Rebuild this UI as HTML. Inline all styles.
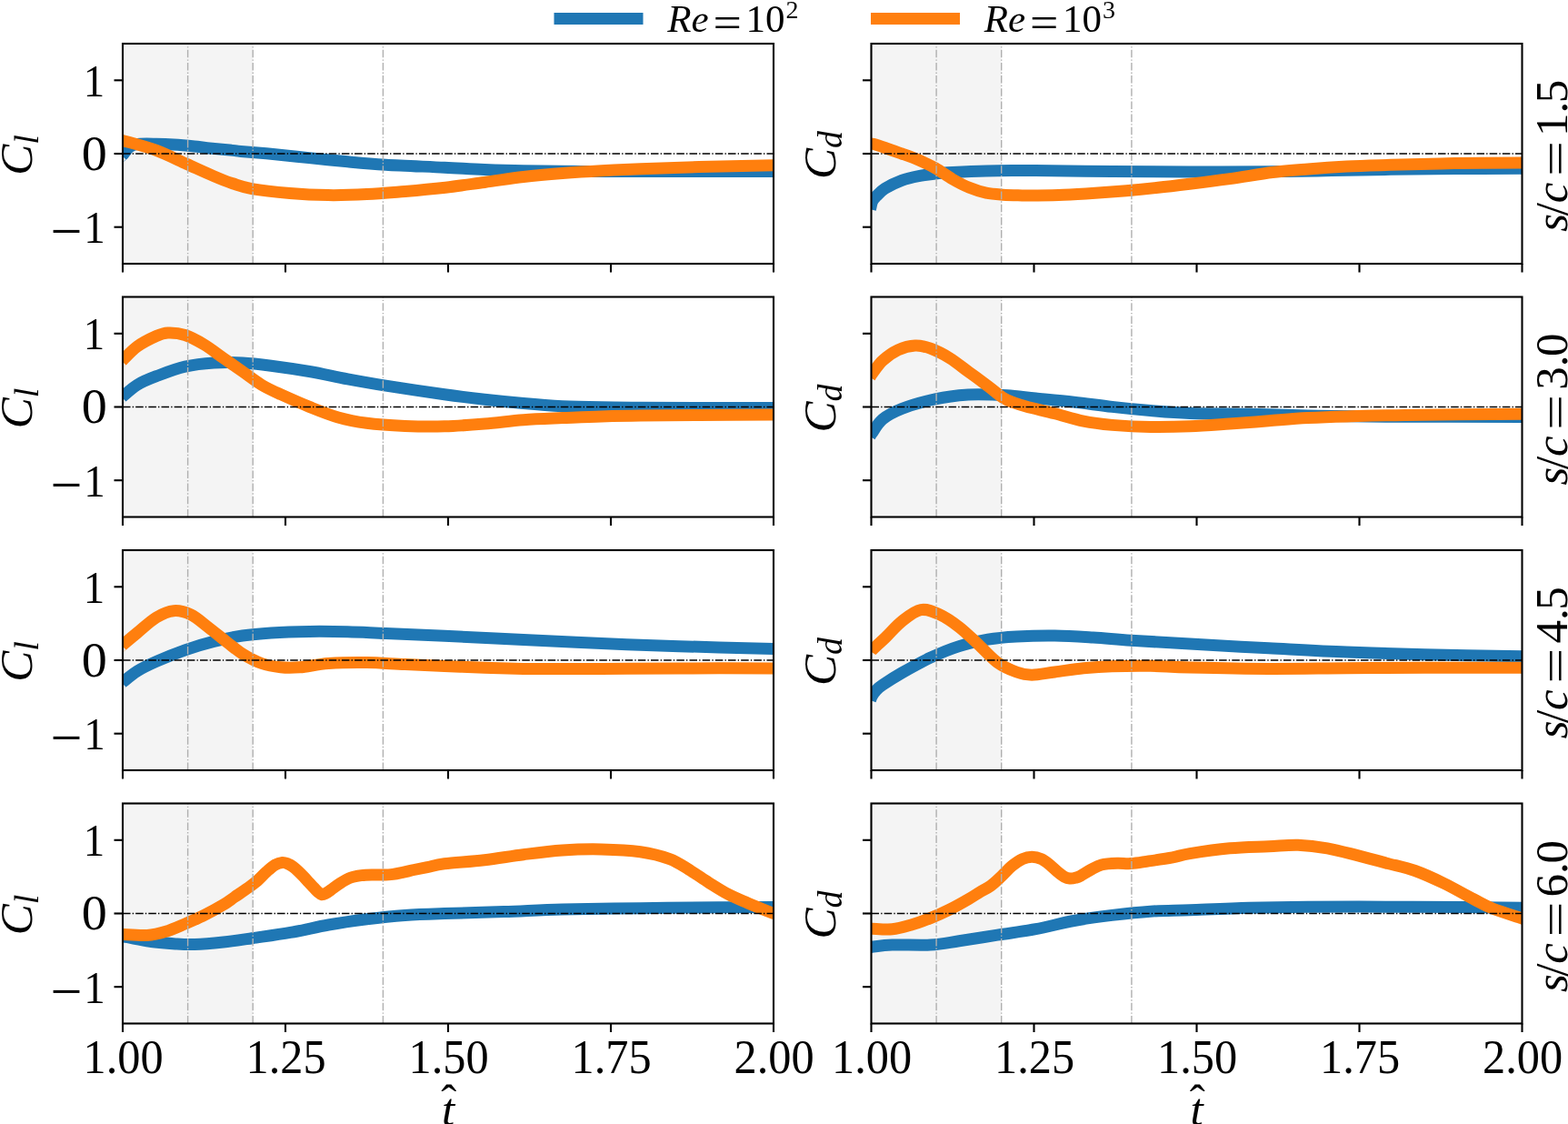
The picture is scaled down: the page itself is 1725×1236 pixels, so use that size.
<!DOCTYPE html>
<html><head><meta charset="utf-8"><title>Cl Cd figure</title>
<style>html,body{margin:0;padding:0;background:#fff;}svg{display:block;}text{font-family:"Liberation Serif","DejaVu Serif",serif;fill:#000;}</style></head><body>
<svg width="1725" height="1236" viewBox="0 0 1725 1236">
<rect x="0" y="0" width="1725" height="1236" fill="#ffffff"/>
<defs><clipPath id="c00"><rect x="135.0" y="48.0" width="716.0" height="242.0"/></clipPath><clipPath id="c01"><rect x="958.5" y="48.0" width="716.0" height="242.0"/></clipPath><clipPath id="c10"><rect x="135.0" y="326.5" width="716.0" height="242.0"/></clipPath><clipPath id="c11"><rect x="958.5" y="326.5" width="716.0" height="242.0"/></clipPath><clipPath id="c20"><rect x="135.0" y="605.0" width="716.0" height="242.0"/></clipPath><clipPath id="c21"><rect x="958.5" y="605.0" width="716.0" height="242.0"/></clipPath><clipPath id="c30"><rect x="135.0" y="883.5" width="716.0" height="242.0"/></clipPath><clipPath id="c31"><rect x="958.5" y="883.5" width="716.0" height="242.0"/></clipPath></defs>
<g><rect x="135.0" y="49.0" width="143.2" height="240.0" fill="#f4f4f4"/><path d="M134.0,171.0 C134.2,170.8 134.1,171.6 135.5,170.0 C136.9,168.4 139.8,163.4 142.6,161.5 C145.3,159.6 147.1,159.0 152.0,158.4 C156.9,157.8 165.5,158.1 172.0,158.2 C178.5,158.3 184.0,158.5 191.0,159.0 C198.0,159.5 207.8,160.4 214.0,161.0 C220.2,161.6 221.0,162.0 228.0,162.7 C235.0,163.4 249.8,164.8 256.0,165.4 C262.2,166.0 258.0,165.8 265.0,166.4 C272.0,167.1 285.5,168.1 298.0,169.3 C310.5,170.5 325.9,172.2 340.0,173.6 C354.1,175.0 368.4,176.5 382.5,177.8 C396.6,179.1 406.8,180.1 424.5,181.2 C442.2,182.3 470.9,183.3 489.0,184.2 C507.1,185.1 518.5,185.9 533.0,186.5 C547.5,187.1 558.2,187.5 576.0,187.8 C593.8,188.1 618.6,188.4 640.0,188.5 C661.4,188.6 683.0,188.6 704.5,188.6 C726.0,188.6 744.4,188.5 769.0,188.5 C793.6,188.5 838.2,188.4 852.0,188.4" fill="none" stroke="#1f77b4" stroke-width="13" stroke-linejoin="round" stroke-linecap="butt" clip-path="url(#c00)"/><path d="M134.0,154.6 C134.4,154.7 130.0,153.1 136.3,154.9 C142.6,156.7 160.4,161.1 172.0,165.4 C183.6,169.7 195.2,175.8 205.7,180.5 C216.2,185.2 226.6,190.0 235.0,193.6 C243.4,197.2 249.0,199.5 256.0,201.8 C263.0,204.1 266.5,205.8 277.0,207.6 C287.5,209.4 305.0,211.3 319.0,212.5 C333.0,213.7 346.9,214.4 361.0,214.6 C375.1,214.8 389.4,214.3 403.5,213.6 C417.6,212.9 431.2,211.6 445.6,210.4 C460.0,209.2 475.4,207.8 490.0,206.2 C504.6,204.5 518.7,202.4 533.0,200.5 C547.3,198.6 561.5,196.2 575.8,194.5 C590.1,192.8 604.4,191.6 618.7,190.5 C633.0,189.4 647.3,188.5 661.6,187.7 C675.9,186.9 686.6,186.4 704.5,185.7 C722.4,185.0 744.4,184.2 769.0,183.5 C793.6,182.8 838.2,182.1 852.0,181.8" fill="none" stroke="#ff7f0e" stroke-width="13" stroke-linejoin="round" stroke-linecap="butt" clip-path="url(#c00)"/><line x1="206.6" y1="290.0" x2="206.6" y2="48.0" stroke="#b0b0b0" stroke-width="1.4" stroke-dasharray="8.55,2.13,1.36,2.13"/><line x1="278.2" y1="290.0" x2="278.2" y2="48.0" stroke="#b0b0b0" stroke-width="1.4" stroke-dasharray="8.55,2.13,1.36,2.13"/><line x1="421.4" y1="290.0" x2="421.4" y2="48.0" stroke="#b0b0b0" stroke-width="1.4" stroke-dasharray="8.55,2.13,1.36,2.13"/><line x1="135.0" y1="169.0" x2="851.0" y2="169.0" stroke="#000" stroke-width="1.4" stroke-dasharray="8.55,2.13,1.36,2.13"/><rect x="135.0" y="48.0" width="716.0" height="242.0" fill="none" stroke="#000" stroke-width="2.1"/><line x1="125.5" y1="88.3" x2="135.0" y2="88.3" stroke="#000" stroke-width="2.1"/><line x1="125.5" y1="169.0" x2="135.0" y2="169.0" stroke="#000" stroke-width="2.1"/><line x1="125.5" y1="249.7" x2="135.0" y2="249.7" stroke="#000" stroke-width="2.1"/><line x1="135.0" y1="290.0" x2="135.0" y2="299.5" stroke="#000" stroke-width="2.1"/><line x1="314.0" y1="290.0" x2="314.0" y2="299.5" stroke="#000" stroke-width="2.1"/><line x1="493.0" y1="290.0" x2="493.0" y2="299.5" stroke="#000" stroke-width="2.1"/><line x1="672.0" y1="290.0" x2="672.0" y2="299.5" stroke="#000" stroke-width="2.1"/><line x1="851.0" y1="290.0" x2="851.0" y2="299.5" stroke="#000" stroke-width="2.1"/><text transform="translate(115.1,105.7) scale(0.92,1)" font-size="51" text-anchor="end">1</text><text transform="translate(117.7,186.8) scale(1.1,1.06)" font-size="51" text-anchor="end">0</text><text font-size="51"><tspan x="55.6" y="275.0" font-size="62">−</tspan><tspan x="92.2" y="267.1" textLength="23.5" lengthAdjust="spacingAndGlyphs">1</tspan></text><text transform="translate(35.0,170.5) rotate(-90)" font-size="51" text-anchor="middle"><tspan font-style="italic">C</tspan><tspan font-style="italic" font-size="38" dy="7">l</tspan></text></g>
<g><rect x="958.5" y="49.0" width="143.2" height="240.0" fill="#f4f4f4"/><path d="M957.5,230.0 C957.9,228.6 958.5,224.0 959.6,221.6 C960.7,219.2 962.0,217.9 964.3,215.5 C966.6,213.1 969.0,210.2 973.6,207.3 C978.2,204.5 985.9,200.7 992.1,198.4 C998.3,196.1 1004.5,194.8 1010.7,193.6 C1016.9,192.4 1023.0,191.7 1029.2,191.0 C1035.4,190.3 1038.5,190.1 1047.8,189.6 C1057.1,189.1 1073.7,188.3 1084.9,188.0 C1096.1,187.7 1106.0,187.6 1115.0,187.5 C1124.0,187.4 1120.9,187.4 1139.0,187.6 C1157.1,187.8 1195.2,188.4 1223.5,188.6 C1251.8,188.8 1280.3,189.0 1309.0,189.0 C1337.7,189.0 1369.8,188.9 1395.8,188.7 C1421.8,188.5 1442.6,188.0 1465.0,187.6 C1487.4,187.2 1507.5,186.6 1530.0,186.3 C1552.5,186.0 1575.7,185.8 1600.0,185.6 C1624.3,185.4 1663.3,185.3 1676.0,185.2" fill="none" stroke="#1f77b4" stroke-width="13" stroke-linejoin="round" stroke-linecap="butt" clip-path="url(#c01)"/><path d="M957.0,158.0 C957.6,158.1 957.8,157.6 960.6,158.3 C963.4,159.1 968.4,160.7 973.6,162.5 C978.9,164.3 985.9,166.8 992.1,169.0 C998.3,171.2 1004.5,173.3 1010.7,176.0 C1016.9,178.7 1023.0,181.5 1029.2,185.0 C1035.4,188.5 1041.6,193.4 1047.8,197.0 C1054.0,200.6 1060.1,203.8 1066.3,206.3 C1072.5,208.8 1078.7,210.9 1084.9,212.2 C1091.1,213.5 1097.6,213.8 1103.4,214.2 C1109.2,214.6 1113.9,214.7 1120.0,214.8 C1126.1,214.9 1131.7,215.1 1140.0,215.0 C1148.3,214.9 1159.2,214.8 1170.0,214.3 C1180.8,213.9 1193.5,213.1 1205.0,212.3 C1216.5,211.6 1227.5,210.8 1239.0,209.8 C1250.5,208.8 1262.4,207.6 1274.0,206.3 C1285.6,205.1 1295.5,203.9 1308.7,202.3 C1321.9,200.7 1337.8,198.7 1353.0,196.6 C1368.2,194.5 1385.7,191.3 1400.0,189.5 C1414.3,187.7 1425.1,187.0 1438.7,185.9 C1452.3,184.8 1466.4,183.8 1481.6,183.0 C1496.8,182.2 1510.3,181.9 1530.0,181.3 C1549.7,180.7 1575.7,180.0 1600.0,179.6 C1624.3,179.2 1663.3,179.1 1676.0,179.0" fill="none" stroke="#ff7f0e" stroke-width="13" stroke-linejoin="round" stroke-linecap="butt" clip-path="url(#c01)"/><line x1="1030.1" y1="290.0" x2="1030.1" y2="48.0" stroke="#b0b0b0" stroke-width="1.4" stroke-dasharray="8.55,2.13,1.36,2.13"/><line x1="1101.7" y1="290.0" x2="1101.7" y2="48.0" stroke="#b0b0b0" stroke-width="1.4" stroke-dasharray="8.55,2.13,1.36,2.13"/><line x1="1244.9" y1="290.0" x2="1244.9" y2="48.0" stroke="#b0b0b0" stroke-width="1.4" stroke-dasharray="8.55,2.13,1.36,2.13"/><line x1="958.5" y1="169.0" x2="1674.5" y2="169.0" stroke="#000" stroke-width="1.4" stroke-dasharray="8.55,2.13,1.36,2.13"/><rect x="958.5" y="48.0" width="716.0" height="242.0" fill="none" stroke="#000" stroke-width="2.1"/><line x1="949.0" y1="88.3" x2="958.5" y2="88.3" stroke="#000" stroke-width="2.1"/><line x1="949.0" y1="169.0" x2="958.5" y2="169.0" stroke="#000" stroke-width="2.1"/><line x1="949.0" y1="249.7" x2="958.5" y2="249.7" stroke="#000" stroke-width="2.1"/><line x1="958.5" y1="290.0" x2="958.5" y2="299.5" stroke="#000" stroke-width="2.1"/><line x1="1137.5" y1="290.0" x2="1137.5" y2="299.5" stroke="#000" stroke-width="2.1"/><line x1="1316.5" y1="290.0" x2="1316.5" y2="299.5" stroke="#000" stroke-width="2.1"/><line x1="1495.5" y1="290.0" x2="1495.5" y2="299.5" stroke="#000" stroke-width="2.1"/><line x1="1674.5" y1="290.0" x2="1674.5" y2="299.5" stroke="#000" stroke-width="2.1"/><text transform="translate(919.0,170.5) rotate(-90)" font-size="51" text-anchor="middle"><tspan font-style="italic">C</tspan><tspan font-style="italic" font-size="38" dy="7">d</tspan></text></g>
<g><rect x="135.0" y="327.5" width="143.2" height="240.0" fill="#f4f4f4"/><path d="M134.0,437.0 C134.2,436.8 132.5,438.1 135.3,435.8 C138.1,433.5 144.9,426.9 151.0,423.2 C157.1,419.5 163.2,417.0 172.0,413.7 C180.8,410.4 193.1,405.6 203.6,403.2 C214.1,400.8 224.7,399.7 235.2,399.0 C245.7,398.3 256.3,398.5 266.8,399.0 C277.3,399.5 286.0,400.6 298.3,402.2 C310.6,403.8 326.4,406.1 340.4,408.5 C354.4,410.9 368.5,414.3 382.5,416.9 C396.5,419.5 406.8,421.4 424.5,424.2 C442.2,427.0 470.9,431.3 489.0,433.8 C507.1,436.3 518.5,437.6 533.0,439.2 C547.5,440.8 561.5,442.2 575.8,443.5 C590.1,444.8 604.4,446.0 618.7,446.7 C633.0,447.4 647.3,447.6 661.6,447.8 C675.9,448.1 686.6,448.1 704.5,448.2 C722.4,448.3 744.3,448.3 768.9,448.4 C793.5,448.5 838.1,448.6 852.0,448.6" fill="none" stroke="#1f77b4" stroke-width="13" stroke-linejoin="round" stroke-linecap="butt" clip-path="url(#c10)"/><path d="M134.0,397.0 C134.2,396.8 132.5,398.5 135.3,395.8 C138.1,393.1 144.9,385.4 151.0,381.0 C157.1,376.6 166.4,372.0 172.0,369.5 C177.6,367.0 179.4,366.2 184.7,366.0 C190.0,365.8 196.9,366.3 203.6,368.5 C210.3,370.7 217.7,374.8 224.7,379.0 C231.7,383.2 238.7,388.8 245.7,393.7 C252.7,398.6 259.8,403.6 266.8,408.5 C273.8,413.4 280.8,419.0 287.8,423.2 C294.8,427.4 300.0,429.7 308.8,433.7 C317.6,437.7 329.9,443.2 340.4,447.4 C350.9,451.6 361.5,456.0 372.0,459.0 C382.5,462.0 391.2,463.7 403.5,465.3 C415.8,466.9 431.4,467.8 445.6,468.4 C459.9,469.0 474.4,469.2 489.0,468.8 C503.6,468.4 518.5,467.2 533.0,466.0 C547.5,464.8 561.5,462.8 575.8,461.7 C590.1,460.6 604.4,460.2 618.7,459.6 C633.0,459.0 647.3,458.3 661.6,457.9 C675.9,457.5 686.6,457.2 704.5,457.0 C722.4,456.8 744.3,456.6 768.9,456.4 C793.5,456.2 838.1,456.0 852.0,455.9" fill="none" stroke="#ff7f0e" stroke-width="13" stroke-linejoin="round" stroke-linecap="butt" clip-path="url(#c10)"/><line x1="206.6" y1="568.5" x2="206.6" y2="326.5" stroke="#b0b0b0" stroke-width="1.4" stroke-dasharray="8.55,2.13,1.36,2.13"/><line x1="278.2" y1="568.5" x2="278.2" y2="326.5" stroke="#b0b0b0" stroke-width="1.4" stroke-dasharray="8.55,2.13,1.36,2.13"/><line x1="421.4" y1="568.5" x2="421.4" y2="326.5" stroke="#b0b0b0" stroke-width="1.4" stroke-dasharray="8.55,2.13,1.36,2.13"/><line x1="135.0" y1="447.5" x2="851.0" y2="447.5" stroke="#000" stroke-width="1.4" stroke-dasharray="8.55,2.13,1.36,2.13"/><rect x="135.0" y="326.5" width="716.0" height="242.0" fill="none" stroke="#000" stroke-width="2.1"/><line x1="125.5" y1="366.8" x2="135.0" y2="366.8" stroke="#000" stroke-width="2.1"/><line x1="125.5" y1="447.5" x2="135.0" y2="447.5" stroke="#000" stroke-width="2.1"/><line x1="125.5" y1="528.2" x2="135.0" y2="528.2" stroke="#000" stroke-width="2.1"/><line x1="135.0" y1="568.5" x2="135.0" y2="578.0" stroke="#000" stroke-width="2.1"/><line x1="314.0" y1="568.5" x2="314.0" y2="578.0" stroke="#000" stroke-width="2.1"/><line x1="493.0" y1="568.5" x2="493.0" y2="578.0" stroke="#000" stroke-width="2.1"/><line x1="672.0" y1="568.5" x2="672.0" y2="578.0" stroke="#000" stroke-width="2.1"/><line x1="851.0" y1="568.5" x2="851.0" y2="578.0" stroke="#000" stroke-width="2.1"/><text transform="translate(115.1,384.2) scale(0.92,1)" font-size="51" text-anchor="end">1</text><text transform="translate(117.7,465.3) scale(1.1,1.06)" font-size="51" text-anchor="end">0</text><text font-size="51"><tspan x="55.6" y="553.5" font-size="62">−</tspan><tspan x="92.2" y="545.6" textLength="23.5" lengthAdjust="spacingAndGlyphs">1</tspan></text><text transform="translate(35.0,449.0) rotate(-90)" font-size="51" text-anchor="middle"><tspan font-style="italic">C</tspan><tspan font-style="italic" font-size="38" dy="7">l</tspan></text></g>
<g><rect x="958.5" y="327.5" width="143.2" height="240.0" fill="#f4f4f4"/><path d="M957.0,480.0 C957.4,479.3 957.2,479.2 959.5,476.0 C961.8,472.8 965.6,465.4 971.0,461.0 C976.4,456.6 983.2,453.0 992.0,449.5 C1000.8,446.0 1013.1,442.4 1023.6,440.0 C1034.1,437.6 1046.4,435.9 1055.2,434.8 C1064.0,433.8 1067.4,433.7 1076.2,433.7 C1085.0,433.7 1097.3,434.1 1107.8,434.8 C1118.3,435.5 1127.1,436.7 1139.4,437.9 C1151.7,439.1 1167.4,440.5 1181.4,442.1 C1195.4,443.7 1209.5,445.8 1223.5,447.4 C1237.5,449.0 1251.3,450.4 1265.6,451.6 C1279.8,452.8 1290.9,453.9 1309.0,454.5 C1327.1,455.1 1352.8,454.9 1374.4,455.3 C1396.0,455.7 1413.7,456.5 1438.7,457.0 C1463.7,457.5 1485.0,457.9 1524.5,458.2 C1564.0,458.4 1650.8,458.4 1676.0,458.5" fill="none" stroke="#1f77b4" stroke-width="13" stroke-linejoin="round" stroke-linecap="butt" clip-path="url(#c11)"/><path d="M957.0,415.0 C957.4,414.3 957.2,414.1 959.5,411.0 C961.8,407.9 966.3,400.9 971.0,396.5 C975.7,392.1 981.9,387.6 987.9,384.8 C993.9,382.1 1000.8,380.3 1006.8,380.0 C1012.8,379.7 1017.3,380.9 1023.6,383.2 C1029.9,385.5 1037.7,389.4 1044.7,393.7 C1051.7,398.0 1058.7,403.9 1065.7,409.0 C1072.7,414.1 1080.5,419.8 1086.8,424.5 C1093.1,429.2 1098.7,434.4 1103.6,437.5 C1108.5,440.6 1111.8,441.4 1116.0,443.0 C1120.2,444.6 1121.4,445.0 1128.8,447.0 C1136.2,449.0 1149.9,452.1 1160.4,454.8 C1170.9,457.5 1181.5,461.1 1192.0,463.2 C1202.5,465.3 1211.2,466.3 1223.5,467.4 C1235.8,468.4 1251.3,469.3 1265.6,469.5 C1279.8,469.7 1294.5,469.4 1309.0,468.8 C1323.5,468.2 1338.4,467.0 1352.9,466.0 C1367.4,465.0 1381.5,463.9 1395.8,462.8 C1410.1,461.7 1424.4,460.4 1438.7,459.6 C1453.0,458.8 1463.7,458.4 1481.6,457.9 C1499.5,457.4 1513.6,456.8 1546.0,456.4 C1578.4,456.0 1654.3,455.5 1676.0,455.3" fill="none" stroke="#ff7f0e" stroke-width="13" stroke-linejoin="round" stroke-linecap="butt" clip-path="url(#c11)"/><line x1="1030.1" y1="568.5" x2="1030.1" y2="326.5" stroke="#b0b0b0" stroke-width="1.4" stroke-dasharray="8.55,2.13,1.36,2.13"/><line x1="1101.7" y1="568.5" x2="1101.7" y2="326.5" stroke="#b0b0b0" stroke-width="1.4" stroke-dasharray="8.55,2.13,1.36,2.13"/><line x1="1244.9" y1="568.5" x2="1244.9" y2="326.5" stroke="#b0b0b0" stroke-width="1.4" stroke-dasharray="8.55,2.13,1.36,2.13"/><line x1="958.5" y1="447.5" x2="1674.5" y2="447.5" stroke="#000" stroke-width="1.4" stroke-dasharray="8.55,2.13,1.36,2.13"/><rect x="958.5" y="326.5" width="716.0" height="242.0" fill="none" stroke="#000" stroke-width="2.1"/><line x1="949.0" y1="366.8" x2="958.5" y2="366.8" stroke="#000" stroke-width="2.1"/><line x1="949.0" y1="447.5" x2="958.5" y2="447.5" stroke="#000" stroke-width="2.1"/><line x1="949.0" y1="528.2" x2="958.5" y2="528.2" stroke="#000" stroke-width="2.1"/><line x1="958.5" y1="568.5" x2="958.5" y2="578.0" stroke="#000" stroke-width="2.1"/><line x1="1137.5" y1="568.5" x2="1137.5" y2="578.0" stroke="#000" stroke-width="2.1"/><line x1="1316.5" y1="568.5" x2="1316.5" y2="578.0" stroke="#000" stroke-width="2.1"/><line x1="1495.5" y1="568.5" x2="1495.5" y2="578.0" stroke="#000" stroke-width="2.1"/><line x1="1674.5" y1="568.5" x2="1674.5" y2="578.0" stroke="#000" stroke-width="2.1"/><text transform="translate(919.0,449.0) rotate(-90)" font-size="51" text-anchor="middle"><tspan font-style="italic">C</tspan><tspan font-style="italic" font-size="38" dy="7">d</tspan></text></g>
<g><rect x="135.0" y="606.0" width="143.2" height="240.0" fill="#f4f4f4"/><path d="M134.0,751.0 C134.2,750.8 132.5,752.2 135.3,750.0 C138.1,747.8 144.9,741.8 151.0,738.0 C157.1,734.2 163.2,731.3 172.0,727.4 C180.8,723.5 193.1,718.5 203.6,714.8 C214.1,711.1 224.7,708.0 235.2,705.4 C245.7,702.8 256.3,700.6 266.8,699.0 C277.3,697.4 286.0,696.7 298.3,695.9 C310.6,695.1 326.4,694.6 340.4,694.4 C354.4,694.2 368.5,694.4 382.5,694.8 C396.5,695.1 406.8,695.8 424.5,696.5 C442.2,697.2 463.8,698.1 489.0,699.3 C514.2,700.5 547.0,702.2 575.8,703.6 C604.6,705.0 633.0,706.3 661.6,707.5 C690.2,708.7 715.7,709.7 747.4,710.7 C779.1,711.7 834.6,713.0 852.0,713.5" fill="none" stroke="#1f77b4" stroke-width="13" stroke-linejoin="round" stroke-linecap="butt" clip-path="url(#c20)"/><path d="M134.0,710.0 C134.2,709.8 132.5,711.4 135.3,709.0 C138.1,706.6 144.9,700.9 151.0,695.9 C157.1,690.9 165.3,683.0 172.0,679.0 C178.7,675.0 184.7,672.2 191.0,671.7 C197.3,671.2 203.7,672.9 210.0,675.9 C216.3,678.9 222.2,684.5 228.9,689.6 C235.6,694.7 243.7,701.5 250.0,706.4 C256.3,711.3 260.5,715.1 266.8,719.0 C273.1,722.9 280.8,727.0 287.8,729.5 C294.8,732.0 301.8,733.1 308.8,733.8 C315.8,734.5 321.1,734.5 329.9,733.8 C338.7,733.1 349.1,730.4 361.4,729.5 C373.7,728.6 389.5,728.3 403.5,728.5 C417.5,728.7 431.4,730.0 445.6,730.6 C459.9,731.2 474.4,731.8 489.0,732.4 C503.6,733.0 518.4,733.8 532.9,734.3 C547.4,734.8 554.3,735.2 575.8,735.4 C597.2,735.6 633.0,735.5 661.6,735.4 C690.2,735.3 715.7,735.0 747.4,734.9 C779.1,734.8 834.6,734.9 852.0,734.9" fill="none" stroke="#ff7f0e" stroke-width="13" stroke-linejoin="round" stroke-linecap="butt" clip-path="url(#c20)"/><line x1="206.6" y1="847.0" x2="206.6" y2="605.0" stroke="#b0b0b0" stroke-width="1.4" stroke-dasharray="8.55,2.13,1.36,2.13"/><line x1="278.2" y1="847.0" x2="278.2" y2="605.0" stroke="#b0b0b0" stroke-width="1.4" stroke-dasharray="8.55,2.13,1.36,2.13"/><line x1="421.4" y1="847.0" x2="421.4" y2="605.0" stroke="#b0b0b0" stroke-width="1.4" stroke-dasharray="8.55,2.13,1.36,2.13"/><line x1="135.0" y1="726.0" x2="851.0" y2="726.0" stroke="#000" stroke-width="1.4" stroke-dasharray="8.55,2.13,1.36,2.13"/><rect x="135.0" y="605.0" width="716.0" height="242.0" fill="none" stroke="#000" stroke-width="2.1"/><line x1="125.5" y1="645.3" x2="135.0" y2="645.3" stroke="#000" stroke-width="2.1"/><line x1="125.5" y1="726.0" x2="135.0" y2="726.0" stroke="#000" stroke-width="2.1"/><line x1="125.5" y1="806.7" x2="135.0" y2="806.7" stroke="#000" stroke-width="2.1"/><line x1="135.0" y1="847.0" x2="135.0" y2="856.5" stroke="#000" stroke-width="2.1"/><line x1="314.0" y1="847.0" x2="314.0" y2="856.5" stroke="#000" stroke-width="2.1"/><line x1="493.0" y1="847.0" x2="493.0" y2="856.5" stroke="#000" stroke-width="2.1"/><line x1="672.0" y1="847.0" x2="672.0" y2="856.5" stroke="#000" stroke-width="2.1"/><line x1="851.0" y1="847.0" x2="851.0" y2="856.5" stroke="#000" stroke-width="2.1"/><text transform="translate(115.1,662.7) scale(0.92,1)" font-size="51" text-anchor="end">1</text><text transform="translate(117.7,743.8) scale(1.1,1.06)" font-size="51" text-anchor="end">0</text><text font-size="51"><tspan x="55.6" y="832.0" font-size="62">−</tspan><tspan x="92.2" y="824.1" textLength="23.5" lengthAdjust="spacingAndGlyphs">1</tspan></text><text transform="translate(35.0,727.5) rotate(-90)" font-size="51" text-anchor="middle"><tspan font-style="italic">C</tspan><tspan font-style="italic" font-size="38" dy="7">l</tspan></text></g>
<g><rect x="958.5" y="606.0" width="143.2" height="240.0" fill="#f4f4f4"/><path d="M957.5,770.0 C957.8,769.2 958.4,766.8 959.5,765.0 C960.6,763.2 962.1,761.0 964.0,759.0 C965.9,757.0 966.3,756.4 971.0,753.2 C975.7,750.0 983.2,745.0 992.0,740.0 C1000.8,735.0 1013.1,728.1 1023.6,723.2 C1034.1,718.3 1044.7,713.9 1055.2,710.6 C1065.7,707.3 1076.3,705.0 1086.8,703.2 C1097.3,701.4 1106.0,700.7 1118.3,700.0 C1130.6,699.3 1146.4,698.8 1160.4,699.0 C1174.4,699.2 1188.5,700.2 1202.5,701.1 C1216.5,702.0 1226.8,703.1 1244.5,704.3 C1262.2,705.4 1283.8,706.6 1309.0,708.0 C1334.2,709.4 1367.0,711.3 1395.8,712.8 C1424.6,714.3 1453.0,716.0 1481.6,717.1 C1510.2,718.2 1535.0,718.9 1567.4,719.7 C1599.8,720.5 1657.9,721.4 1676.0,721.8" fill="none" stroke="#1f77b4" stroke-width="13" stroke-linejoin="round" stroke-linecap="butt" clip-path="url(#c21)"/><path d="M958.0,716.5 C958.2,716.2 956.6,717.5 959.5,714.8 C962.4,712.0 969.8,705.2 975.2,700.0 C980.6,694.8 985.7,688.2 992.0,683.3 C998.3,678.4 1006.0,671.8 1013.0,670.6 C1020.0,669.4 1027.0,672.7 1034.0,675.9 C1041.0,679.1 1048.2,684.2 1055.2,689.6 C1062.2,695.0 1069.2,702.0 1076.2,708.5 C1083.2,715.0 1090.3,723.4 1097.3,728.5 C1104.3,733.6 1112.0,736.7 1118.3,739.0 C1124.6,741.3 1128.1,742.2 1135.1,742.2 C1142.1,742.2 1150.9,740.2 1160.4,739.0 C1169.9,737.8 1181.5,735.8 1192.0,734.8 C1202.5,733.8 1211.2,733.1 1223.5,732.7 C1235.8,732.3 1251.3,732.1 1265.6,732.3 C1279.8,732.5 1287.3,733.5 1309.0,734.0 C1330.7,734.5 1367.0,735.3 1395.8,735.4 C1424.6,735.5 1453.0,734.9 1481.6,734.7 C1510.2,734.5 1535.0,734.4 1567.4,734.3 C1599.8,734.2 1657.9,734.3 1676.0,734.3" fill="none" stroke="#ff7f0e" stroke-width="13" stroke-linejoin="round" stroke-linecap="butt" clip-path="url(#c21)"/><line x1="1030.1" y1="847.0" x2="1030.1" y2="605.0" stroke="#b0b0b0" stroke-width="1.4" stroke-dasharray="8.55,2.13,1.36,2.13"/><line x1="1101.7" y1="847.0" x2="1101.7" y2="605.0" stroke="#b0b0b0" stroke-width="1.4" stroke-dasharray="8.55,2.13,1.36,2.13"/><line x1="1244.9" y1="847.0" x2="1244.9" y2="605.0" stroke="#b0b0b0" stroke-width="1.4" stroke-dasharray="8.55,2.13,1.36,2.13"/><line x1="958.5" y1="726.0" x2="1674.5" y2="726.0" stroke="#000" stroke-width="1.4" stroke-dasharray="8.55,2.13,1.36,2.13"/><rect x="958.5" y="605.0" width="716.0" height="242.0" fill="none" stroke="#000" stroke-width="2.1"/><line x1="949.0" y1="645.3" x2="958.5" y2="645.3" stroke="#000" stroke-width="2.1"/><line x1="949.0" y1="726.0" x2="958.5" y2="726.0" stroke="#000" stroke-width="2.1"/><line x1="949.0" y1="806.7" x2="958.5" y2="806.7" stroke="#000" stroke-width="2.1"/><line x1="958.5" y1="847.0" x2="958.5" y2="856.5" stroke="#000" stroke-width="2.1"/><line x1="1137.5" y1="847.0" x2="1137.5" y2="856.5" stroke="#000" stroke-width="2.1"/><line x1="1316.5" y1="847.0" x2="1316.5" y2="856.5" stroke="#000" stroke-width="2.1"/><line x1="1495.5" y1="847.0" x2="1495.5" y2="856.5" stroke="#000" stroke-width="2.1"/><line x1="1674.5" y1="847.0" x2="1674.5" y2="856.5" stroke="#000" stroke-width="2.1"/><text transform="translate(919.0,727.5) rotate(-90)" font-size="51" text-anchor="middle"><tspan font-style="italic">C</tspan><tspan font-style="italic" font-size="38" dy="7">d</tspan></text></g>
<g><rect x="135.0" y="884.5" width="143.2" height="240.0" fill="#f4f4f4"/><path d="M134.0,1029.4 C134.2,1029.4 130.7,1028.7 135.3,1029.6 C139.9,1030.5 152.0,1033.4 161.6,1034.8 C171.2,1036.2 184.3,1037.3 193.1,1037.9 C201.9,1038.5 205.4,1038.8 214.2,1038.5 C223.0,1038.2 235.2,1037.1 245.7,1036.0 C256.2,1034.9 265.0,1033.5 277.3,1031.7 C289.6,1029.9 305.4,1027.9 319.4,1025.4 C333.4,1023.0 347.4,1019.5 361.4,1017.0 C375.4,1014.5 389.5,1012.5 403.5,1010.7 C417.5,1008.9 431.4,1007.4 445.6,1006.4 C459.9,1005.4 470.9,1005.1 489.0,1004.5 C507.1,1003.9 532.8,1003.4 554.4,1002.6 C576.0,1001.9 593.7,1000.6 618.7,1000.0 C643.7,999.4 675.9,999.1 704.5,998.7 C733.1,998.3 765.7,998.0 790.3,997.8 C814.9,997.6 841.7,997.6 852.0,997.6" fill="none" stroke="#1f77b4" stroke-width="13" stroke-linejoin="round" stroke-linecap="butt" clip-path="url(#c30)"/><path d="M134.0,1027.5 C134.2,1027.5 130.7,1027.3 135.3,1027.5 C139.9,1027.7 153.7,1029.0 161.6,1028.5 C169.5,1028.0 175.6,1026.4 182.6,1024.3 C189.6,1022.2 196.6,1018.9 203.6,1015.9 C210.6,1012.9 217.7,1009.9 224.7,1006.4 C231.7,1002.9 240.1,998.2 245.7,994.9 C251.2,991.6 253.9,989.3 258.0,986.5 C262.1,983.7 266.1,981.1 270.0,978.3 C273.9,975.5 277.7,973.1 281.6,969.8 C285.5,966.5 289.7,961.7 293.2,958.6 C296.7,955.5 299.6,952.8 302.5,951.1 C305.4,949.4 308.3,948.6 310.6,948.4 C312.9,948.2 314.5,949.0 316.4,949.8 C318.3,950.6 320.3,951.6 322.2,953.0 C324.1,954.4 326.1,956.2 328.0,958.0 C329.9,959.8 331.9,961.8 333.8,963.8 C335.7,965.8 337.7,968.1 339.6,970.2 C341.5,972.3 343.7,974.5 345.4,976.3 C347.1,978.1 348.6,979.8 350.0,981.0 C351.4,982.2 352.6,983.6 354.0,983.8 C355.4,984.0 356.8,983.2 358.5,982.3 C360.2,981.4 361.4,980.5 364.0,978.6 C366.6,976.8 370.6,973.5 374.3,971.2 C378.0,968.9 382.1,966.4 386.0,965.0 C389.9,963.6 393.7,963.1 397.5,962.6 C401.3,962.1 405.1,962.0 409.0,961.9 C412.9,961.8 416.8,962.2 420.7,962.1 C424.6,962.0 428.4,961.9 432.3,961.4 C436.2,960.9 440.1,960.0 444.0,959.2 C447.9,958.4 451.2,957.4 455.5,956.5 C459.8,955.6 464.4,954.7 470.0,953.6 C475.6,952.5 478.5,951.1 489.0,949.8 C499.5,948.5 518.4,947.4 532.9,945.7 C547.4,944.0 561.5,941.5 575.8,939.7 C590.1,937.9 604.4,936.0 618.7,935.0 C633.0,934.0 647.3,933.6 661.6,933.9 C675.9,934.2 692.0,934.9 704.5,936.7 C717.0,938.5 727.8,941.3 736.7,944.6 C745.6,947.9 751.0,952.1 758.1,956.4 C765.2,960.7 772.5,965.9 779.6,970.4 C786.8,974.9 793.9,979.5 801.0,983.3 C808.1,987.0 814.0,989.3 822.5,992.9 C831.0,996.5 847.1,1003.0 852.0,1005.0" fill="none" stroke="#ff7f0e" stroke-width="13" stroke-linejoin="round" stroke-linecap="butt" clip-path="url(#c30)"/><line x1="206.6" y1="1125.5" x2="206.6" y2="883.5" stroke="#b0b0b0" stroke-width="1.4" stroke-dasharray="8.55,2.13,1.36,2.13"/><line x1="278.2" y1="1125.5" x2="278.2" y2="883.5" stroke="#b0b0b0" stroke-width="1.4" stroke-dasharray="8.55,2.13,1.36,2.13"/><line x1="421.4" y1="1125.5" x2="421.4" y2="883.5" stroke="#b0b0b0" stroke-width="1.4" stroke-dasharray="8.55,2.13,1.36,2.13"/><line x1="135.0" y1="1004.5" x2="851.0" y2="1004.5" stroke="#000" stroke-width="1.4" stroke-dasharray="8.55,2.13,1.36,2.13"/><rect x="135.0" y="883.5" width="716.0" height="242.0" fill="none" stroke="#000" stroke-width="2.1"/><line x1="125.5" y1="923.8" x2="135.0" y2="923.8" stroke="#000" stroke-width="2.1"/><line x1="125.5" y1="1004.5" x2="135.0" y2="1004.5" stroke="#000" stroke-width="2.1"/><line x1="125.5" y1="1085.2" x2="135.0" y2="1085.2" stroke="#000" stroke-width="2.1"/><line x1="135.0" y1="1125.5" x2="135.0" y2="1135.0" stroke="#000" stroke-width="2.1"/><line x1="314.0" y1="1125.5" x2="314.0" y2="1135.0" stroke="#000" stroke-width="2.1"/><line x1="493.0" y1="1125.5" x2="493.0" y2="1135.0" stroke="#000" stroke-width="2.1"/><line x1="672.0" y1="1125.5" x2="672.0" y2="1135.0" stroke="#000" stroke-width="2.1"/><line x1="851.0" y1="1125.5" x2="851.0" y2="1135.0" stroke="#000" stroke-width="2.1"/><text transform="translate(115.1,941.2) scale(0.92,1)" font-size="51" text-anchor="end">1</text><text transform="translate(117.7,1022.3) scale(1.1,1.06)" font-size="51" text-anchor="end">0</text><text font-size="51"><tspan x="55.6" y="1110.5" font-size="62">−</tspan><tspan x="92.2" y="1102.6" textLength="23.5" lengthAdjust="spacingAndGlyphs">1</tspan></text><text transform="translate(135.6,1179.5) scale(0.95,1)" font-size="53" text-anchor="middle">1.00</text><text transform="translate(314.6,1179.5) scale(0.95,1)" font-size="53" text-anchor="middle">1.25</text><text transform="translate(493.6,1179.5) scale(0.95,1)" font-size="53" text-anchor="middle">1.50</text><text transform="translate(672.6,1179.5) scale(0.95,1)" font-size="53" text-anchor="middle">1.75</text><text transform="translate(851.6,1179.5) scale(0.95,1)" font-size="53" text-anchor="middle">2.00</text><text x="493.0" y="1237.0" font-size="51" text-anchor="middle" font-style="italic">t</text><text x="493.8" y="1227.8" font-size="51" text-anchor="middle">ˆ</text><text transform="translate(35.0,1006.0) rotate(-90)" font-size="51" text-anchor="middle"><tspan font-style="italic">C</tspan><tspan font-style="italic" font-size="38" dy="7">l</tspan></text></g>
<g><rect x="958.5" y="884.5" width="143.2" height="240.0" fill="#f4f4f4"/><path d="M958.0,1041.3 C958.2,1041.3 955.6,1041.6 959.5,1041.2 C963.4,1040.8 970.9,1039.4 981.6,1039.0 C992.3,1038.6 1011.3,1039.7 1023.6,1039.0 C1035.9,1038.3 1042.9,1036.6 1055.2,1034.8 C1067.5,1033.0 1083.3,1030.4 1097.3,1028.2 C1111.3,1026.0 1125.4,1024.3 1139.4,1021.7 C1153.4,1019.1 1167.4,1015.0 1181.4,1012.5 C1195.4,1010.0 1209.5,1008.1 1223.5,1006.4 C1237.5,1004.7 1251.3,1003.1 1265.6,1002.2 C1279.8,1001.3 1290.9,1001.4 1309.0,1000.8 C1327.1,1000.1 1352.8,998.9 1374.4,998.3 C1396.0,997.7 1413.7,997.4 1438.7,997.2 C1463.7,997.0 1495.9,997.1 1524.5,997.2 C1553.1,997.3 1585.0,997.4 1610.3,997.6 C1635.5,997.8 1665.0,998.2 1676.0,998.3" fill="none" stroke="#1f77b4" stroke-width="13" stroke-linejoin="round" stroke-linecap="butt" clip-path="url(#c31)"/><path d="M958.0,1021.2 C958.2,1021.2 955.6,1021.1 959.5,1021.2 C963.4,1021.3 974.4,1022.5 981.6,1021.8 C988.8,1021.1 995.6,1019.0 1002.6,1017.0 C1009.6,1015.0 1016.6,1012.4 1023.6,1009.6 C1030.6,1006.8 1037.7,1003.6 1044.7,1000.1 C1051.7,996.6 1060.2,991.8 1065.7,988.6 C1071.2,985.4 1074.0,983.4 1078.0,981.0 C1082.0,978.6 1086.1,976.9 1090.0,974.0 C1093.9,971.1 1097.7,967.3 1101.6,963.7 C1105.5,960.1 1109.3,955.5 1113.2,952.3 C1117.1,949.1 1121.1,946.3 1124.8,944.6 C1128.5,942.9 1131.7,942.2 1135.2,942.2 C1138.7,942.2 1142.4,943.1 1145.7,944.6 C1149.0,946.1 1151.8,948.5 1154.9,951.0 C1158.0,953.5 1161.5,957.1 1164.2,959.3 C1166.9,961.5 1168.9,963.1 1171.0,964.2 C1173.1,965.3 1175.0,965.8 1177.0,966.0 C1179.0,966.2 1181.1,965.8 1183.0,965.3 C1184.9,964.8 1185.8,964.7 1188.6,963.2 C1191.4,961.7 1196.2,958.4 1200.1,956.4 C1203.9,954.4 1206.9,952.2 1211.7,951.0 C1216.5,949.8 1223.7,949.5 1229.1,949.3 C1234.5,949.1 1238.4,950.0 1244.2,949.6 C1250.0,949.2 1256.3,948.0 1263.9,946.9 C1271.5,945.8 1282.5,944.2 1290.0,942.8 C1297.5,941.4 1298.5,940.3 1309.0,938.6 C1319.5,936.9 1338.4,934.1 1352.9,932.8 C1367.4,931.5 1383.3,931.3 1395.8,930.7 C1408.3,930.1 1417.3,928.9 1428.0,929.2 C1438.7,929.6 1449.5,930.9 1460.2,932.8 C1470.9,934.7 1481.6,937.7 1492.3,940.4 C1503.0,943.1 1513.8,946.0 1524.5,948.9 C1535.2,951.8 1546.0,953.7 1556.7,957.5 C1567.4,961.3 1578.1,966.3 1588.8,971.5 C1599.5,976.7 1612.0,984.0 1621.0,988.6 C1630.0,993.2 1633.3,995.6 1642.5,999.3 C1651.7,1002.9 1670.4,1008.6 1676.0,1010.5" fill="none" stroke="#ff7f0e" stroke-width="13" stroke-linejoin="round" stroke-linecap="butt" clip-path="url(#c31)"/><line x1="1030.1" y1="1125.5" x2="1030.1" y2="883.5" stroke="#b0b0b0" stroke-width="1.4" stroke-dasharray="8.55,2.13,1.36,2.13"/><line x1="1101.7" y1="1125.5" x2="1101.7" y2="883.5" stroke="#b0b0b0" stroke-width="1.4" stroke-dasharray="8.55,2.13,1.36,2.13"/><line x1="1244.9" y1="1125.5" x2="1244.9" y2="883.5" stroke="#b0b0b0" stroke-width="1.4" stroke-dasharray="8.55,2.13,1.36,2.13"/><line x1="958.5" y1="1004.5" x2="1674.5" y2="1004.5" stroke="#000" stroke-width="1.4" stroke-dasharray="8.55,2.13,1.36,2.13"/><rect x="958.5" y="883.5" width="716.0" height="242.0" fill="none" stroke="#000" stroke-width="2.1"/><line x1="949.0" y1="923.8" x2="958.5" y2="923.8" stroke="#000" stroke-width="2.1"/><line x1="949.0" y1="1004.5" x2="958.5" y2="1004.5" stroke="#000" stroke-width="2.1"/><line x1="949.0" y1="1085.2" x2="958.5" y2="1085.2" stroke="#000" stroke-width="2.1"/><line x1="958.5" y1="1125.5" x2="958.5" y2="1135.0" stroke="#000" stroke-width="2.1"/><line x1="1137.5" y1="1125.5" x2="1137.5" y2="1135.0" stroke="#000" stroke-width="2.1"/><line x1="1316.5" y1="1125.5" x2="1316.5" y2="1135.0" stroke="#000" stroke-width="2.1"/><line x1="1495.5" y1="1125.5" x2="1495.5" y2="1135.0" stroke="#000" stroke-width="2.1"/><line x1="1674.5" y1="1125.5" x2="1674.5" y2="1135.0" stroke="#000" stroke-width="2.1"/><text transform="translate(959.1,1179.5) scale(0.95,1)" font-size="53" text-anchor="middle">1.00</text><text transform="translate(1138.1,1179.5) scale(0.95,1)" font-size="53" text-anchor="middle">1.25</text><text transform="translate(1317.1,1179.5) scale(0.95,1)" font-size="53" text-anchor="middle">1.50</text><text transform="translate(1496.1,1179.5) scale(0.95,1)" font-size="53" text-anchor="middle">1.75</text><text transform="translate(1675.1,1179.5) scale(0.95,1)" font-size="53" text-anchor="middle">2.00</text><text x="1316.5" y="1237.0" font-size="51" text-anchor="middle" font-style="italic">t</text><text x="1317.3" y="1227.8" font-size="51" text-anchor="middle">ˆ</text><text transform="translate(919.0,1006.0) rotate(-90)" font-size="51" text-anchor="middle"><tspan font-style="italic">C</tspan><tspan font-style="italic" font-size="38" dy="7">d</tspan></text></g>
<text transform="translate(1723.5,257.5) rotate(-90)" font-size="51"><tspan x="2.8" y="0" font-style="italic">s</tspan><tspan x="20.2" y="0">/</tspan><tspan x="34.2" y="0" font-style="italic">c</tspan><tspan x="63.4" y="4.5" textLength="39.2" lengthAdjust="spacingAndGlyphs">=</tspan><tspan x="107.5" y="0">1</tspan><tspan x="133" y="0">.</tspan><tspan x="144.3" y="0">5</tspan></text>
<text transform="translate(1723.5,536.3) rotate(-90)" font-size="51"><tspan x="2.8" y="0" font-style="italic">s</tspan><tspan x="20.2" y="0">/</tspan><tspan x="34.2" y="0" font-style="italic">c</tspan><tspan x="63.4" y="4.5" textLength="39.2" lengthAdjust="spacingAndGlyphs">=</tspan><tspan x="107.5" y="0">3</tspan><tspan x="133" y="0">.</tspan><tspan x="144.3" y="0">0</tspan></text>
<text transform="translate(1723.5,815.1) rotate(-90)" font-size="51"><tspan x="2.8" y="0" font-style="italic">s</tspan><tspan x="20.2" y="0">/</tspan><tspan x="34.2" y="0" font-style="italic">c</tspan><tspan x="63.4" y="4.5" textLength="39.2" lengthAdjust="spacingAndGlyphs">=</tspan><tspan x="107.5" y="0">4</tspan><tspan x="133" y="0">.</tspan><tspan x="144.3" y="0">5</tspan></text>
<text transform="translate(1723.5,1093.9) rotate(-90)" font-size="51"><tspan x="2.8" y="0" font-style="italic">s</tspan><tspan x="20.2" y="0">/</tspan><tspan x="34.2" y="0" font-style="italic">c</tspan><tspan x="63.4" y="4.5" textLength="39.2" lengthAdjust="spacingAndGlyphs">=</tspan><tspan x="107.5" y="0">6</tspan><tspan x="133" y="0">.</tspan><tspan x="144.3" y="0">0</tspan></text>
<rect x="609.5" y="14" width="98" height="13" fill="#1f77b4"/><text font-size="43"><tspan x="734.3" y="34.8" font-style="italic">Re</tspan><tspan x="784.4" y="40.5" font-size="48" textLength="31.4" lengthAdjust="spacingAndGlyphs">=</tspan><tspan x="820.5" y="34.8">10</tspan><tspan x="864.5" y="19.5" font-size="28">2</tspan></text>
<rect x="958.0" y="14" width="98" height="13" fill="#ff7f0e"/><text font-size="43"><tspan x="1082.8" y="34.8" font-style="italic">Re</tspan><tspan x="1132.9" y="40.5" font-size="48" textLength="31.4" lengthAdjust="spacingAndGlyphs">=</tspan><tspan x="1169.0" y="34.8">10</tspan><tspan x="1213.0" y="19.5" font-size="28">3</tspan></text>
</svg>
</body></html>
